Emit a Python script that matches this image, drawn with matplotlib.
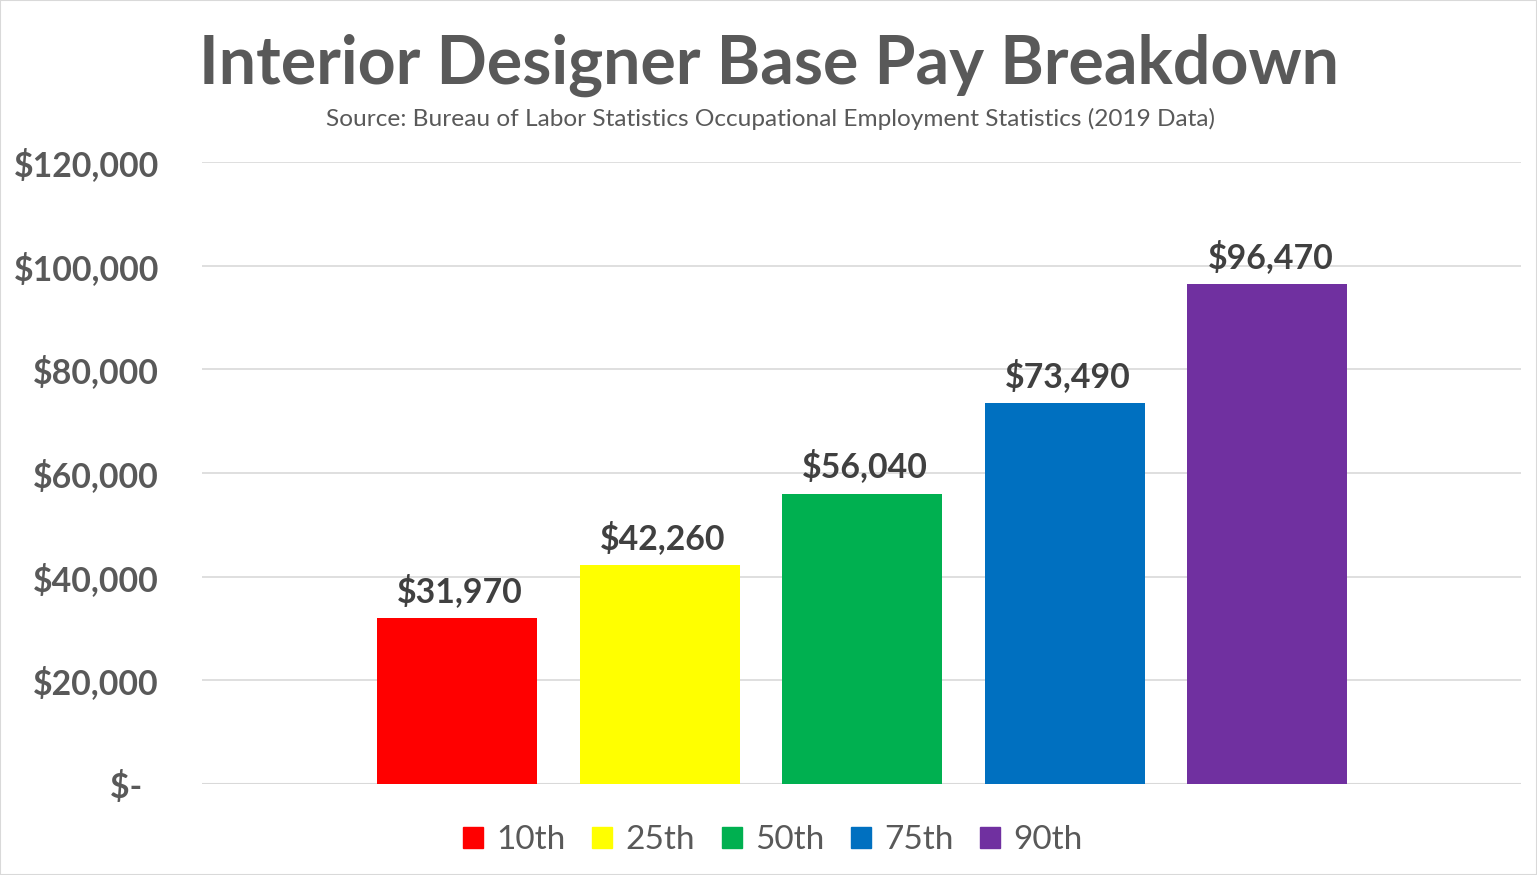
import numpy as np
import matplotlib.pyplot as plt
from matplotlib.patches import Rectangle

# percentiles and base pay (BLS OES 2019)
percentiles = ['10th', '25th', '50th', '75th', '90th']
pay = [31970, 42260, 56040, 73490, 96470]
colors = ['#FF0000', '#FFFF00', '#00B050', '#0070C0', '#7030A0']
yticks = [0, 20000, 40000, 60000, 80000, 100000, 120000]
ytick_labels = ['$-  ', '$20,000', '$40,000', '$60,000', '$80,000', '$100,000', '$120,000']

plt.rcParams['font.family'] = ['Lato', 'DejaVu Sans']
grey = '#595959'

fig = plt.figure(figsize=(15.37, 8.75), dpi=100)
fig.patches.append(Rectangle((0, 0), 1, 1, transform=fig.transFigure,
                             fill=False, edgecolor='#D9D9D9', linewidth=1.5))

ax = fig.add_axes([202/1537, (875-784)/875, (1521-202)/1537, (784-162)/875])
x = np.arange(len(pay))
bars = ax.bar(x, pay, width=0.79, color=colors, zorder=3)
for xi, v in zip(x, pay):
    ax.text(xi + 0.015, v + 2000, '${:,}'.format(v), ha='center', va='bottom',
            fontsize=24.4, fontweight='bold', color='#404040')

ax.set_xlim(-1.2586, 5.2517)
ax.set_ylim(0, 120000)
ax.set_yticks(yticks)
ax.set_yticklabels(ytick_labels, fontsize=24.4, fontweight='bold', color=grey)
ax.tick_params(axis='y', length=0, pad=31)
ax.set_xticks([])
ax.grid(axis='y', color='#D9D9D9', linewidth=1.2, zorder=0)
for s in ax.spines.values():
    s.set_visible(False)
ax.axhline(0, color='#D9D9D9', linewidth=1.5, zorder=2)

fig.text(769/1537, 1 - 65/875, 'Interior Designer Base Pay Breakdown', ha='center', va='center',
         fontsize=47.7, fontweight='bold', color=grey)
fig.text(770/1537, 1 - 119/875, 'Source: Bureau of Labor Statistics Occupational Employment Statistics (2019 Data)',
         ha='center', va='center', fontsize=17.6, color=grey)

handles = [Rectangle((0, 0), 1, 1, color=c) for c in colors]
fig.legend(handles, percentiles, loc='center', bbox_to_anchor=(773/1537, 1 - 840/875), ncol=5,
           frameon=False, fontsize=24, labelcolor=grey, handlelength=0.6, handleheight=0.6,
           handletextpad=0.4, columnspacing=0.8)

fig.savefig('out.png', dpi=100)
